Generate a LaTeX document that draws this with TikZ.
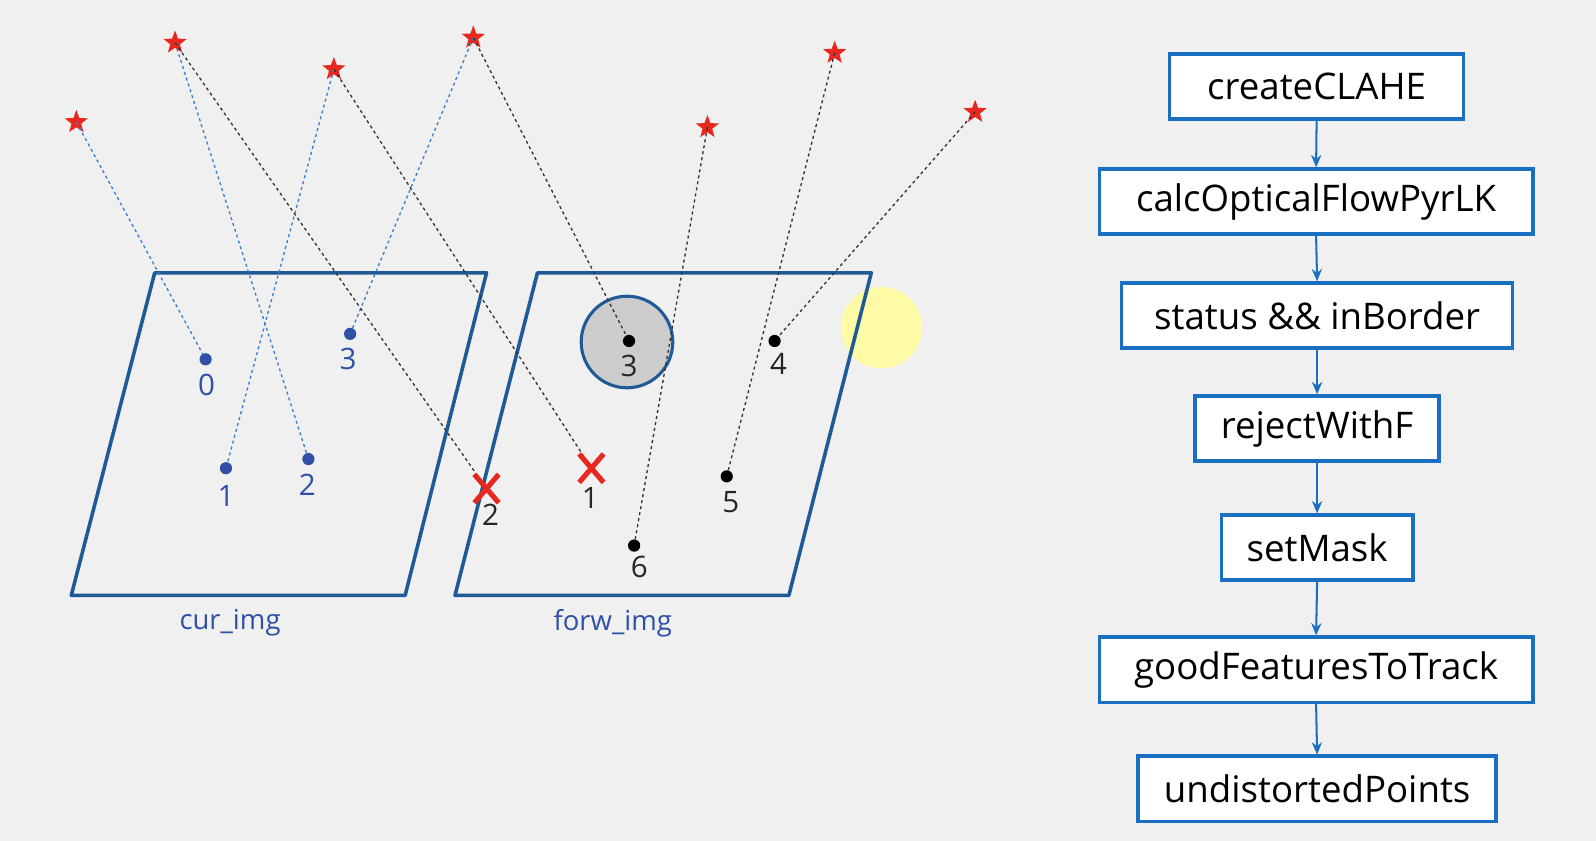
\documentclass[tikz,border=0pt]{standalone}
\usepackage{fontspec}
\setmainfont{Open Sans}
\usetikzlibrary{shapes.geometric,arrows.meta,calc}
\definecolor{frameblue}{HTML}{1F5A96}
\definecolor{ptblue}{HTML}{3050A8}
\definecolor{boxblue}{HTML}{1A6FC0}
\definecolor{lineblue}{HTML}{3A80D0}
\definecolor{starred}{HTML}{E8281E}
\tikzset{
 starnode/.style={star,star points=5,star point ratio=2.4,fill=starred,draw=none,inner sep=0,minimum size=24pt},
 bpt/.style={circle,fill=ptblue,inner sep=0,minimum size=12pt},
 kpt/.style={circle,fill=black,inner sep=0,minimum size=12pt},
 blab/.style={text=ptblue,font=\fontsize{29}{29}\selectfont},
 klab/.style={text=black!85,font=\fontsize{29}{29}\selectfont},
 bdash/.style={draw=lineblue,dashed,line width=1.3pt},
 kdash/.style={draw=black!80,dashed,line width=1.3pt},
 frame/.style={draw=frameblue,line width=3.5pt,line join=round},
 fbox/.style={draw=boxblue,line width=3.5pt,fill=white,inner sep=0,font=\fontsize{36}{40}\selectfont},
 farrow/.style={draw=boxblue,line width=2pt,-{Stealth[length=12pt,width=10pt]}},
 xmark/.style={draw=starred,line width=5pt}
}
\begin{document}
\begin{tikzpicture}[x=1pt,y=-1pt]
\fill[black!6] (0,0) rectangle (1568,826);
\useasboundingbox (0,0) rectangle (1568,826);
\fill[yellow!35] (866,322) circle (40);
\draw[frame] (152,268)--(478,268)--(398,585)--(70,585)--cycle;
\draw[frame] (528,268)--(856,268)--(775,585)--(447,585)--cycle;
\node[blab,font=\fontsize{27}{27}\selectfont] (lc) at (226,612) {cur\_img};
\node[blab,font=\fontsize{27}{27}\selectfont] (lf) at (602,612) {forw\_img};
\node[circle,draw=frameblue,line width=3pt,fill=black!20,minimum size=90pt] (gc) at (616,336) {};
\node[starnode] (s0) at (75,120) {};
\node[starnode] (s1) at (172,42) {};
\node[starnode] (s2) at (328,68) {};
\node[starnode] (s3) at (465,37) {};
\node[starnode] (s4) at (820,52) {};
\node[starnode] (s5) at (695,125) {};
\node[starnode] (s6) at (958,110) {};
\node[bpt] (p0) at (202,353) {};
\node[bpt] (p1) at (222,460) {};
\node[bpt] (p2) at (303,451) {};
\node[bpt] (p3) at (344,328) {};
\node[blab] at (203,378) {0};
\node[blab] at (222,487) {1};
\node[blab] at (302,476) {2};
\node[blab] at (342,353) {3};
\coordinate (x2) at (478,480);
\coordinate (x1) at (581,460);
\node[kpt] (f3) at (618,335) {};
\node[kpt] (f4) at (761,335) {};
\node[kpt] (f5) at (714,468) {};
\node[kpt] (f6) at (623,536) {};
\draw[bdash] (s0.center)--(p0);
\draw[bdash] (s1.center)--(p2);
\draw[bdash] (s2.center)--(p1);
\draw[bdash] (s3.center)--(p3);
\draw[kdash] (s1.center)--(x2);
\draw[kdash] (s2.center)--(x1);
\draw[kdash] (s3.center)--(f3);
\draw[kdash] (s5.center)--(f6);
\draw[kdash] (s4.center)--(f5);
\draw[kdash] (s6.center)--(f4);
\draw[xmark] ($(x2)+(-12,-14)$)--($(x2)+(12,14)$) ($(x2)+(12,-14)$)--($(x2)+(-12,14)$);
\draw[xmark] ($(x1)+(-12,-14)$)--($(x1)+(12,14)$) ($(x1)+(12,-14)$)--($(x1)+(-12,14)$);
\node[klab] at (618,360) {3};
\node[klab] at (765,358) {4};
\node[klab] at (718,493) {5};
\node[klab] at (628,557) {6};
\node[klab] at (482,506) {2};
\node[klab] at (580,489) {1};
\node[fbox,minimum width=289pt,minimum height=64pt] (b1) at (1293.5,85) {createCLAHE};
\node[fbox,minimum width=426pt,minimum height=64pt] (b2) at (1293,198) {calcOpticalFlowPyrLK};
\node[fbox,minimum width=384pt,minimum height=64pt] (b3) at (1294,310) {status \&\& inBorder};
\node[fbox,minimum width=240pt,minimum height=64pt] (b4) at (1294,421) {rejectWithF};
\node[fbox,minimum width=188pt,minimum height=64pt] (b5) at (1294,538) {setMask};
\node[fbox,minimum width=426pt,minimum height=64pt] (b6) at (1293,658) {goodFeaturesToTrack};
\node[fbox,minimum width=352pt,minimum height=64pt] (b7) at (1294,775) {undistortedPoints};
\foreach \a/\b in {b1/b2,b2/b3,b3/b4,b4/b5,b5/b6,b6/b7}
  \draw[farrow] (\a.south)--(\b.north);
\end{tikzpicture}
\end{document}
